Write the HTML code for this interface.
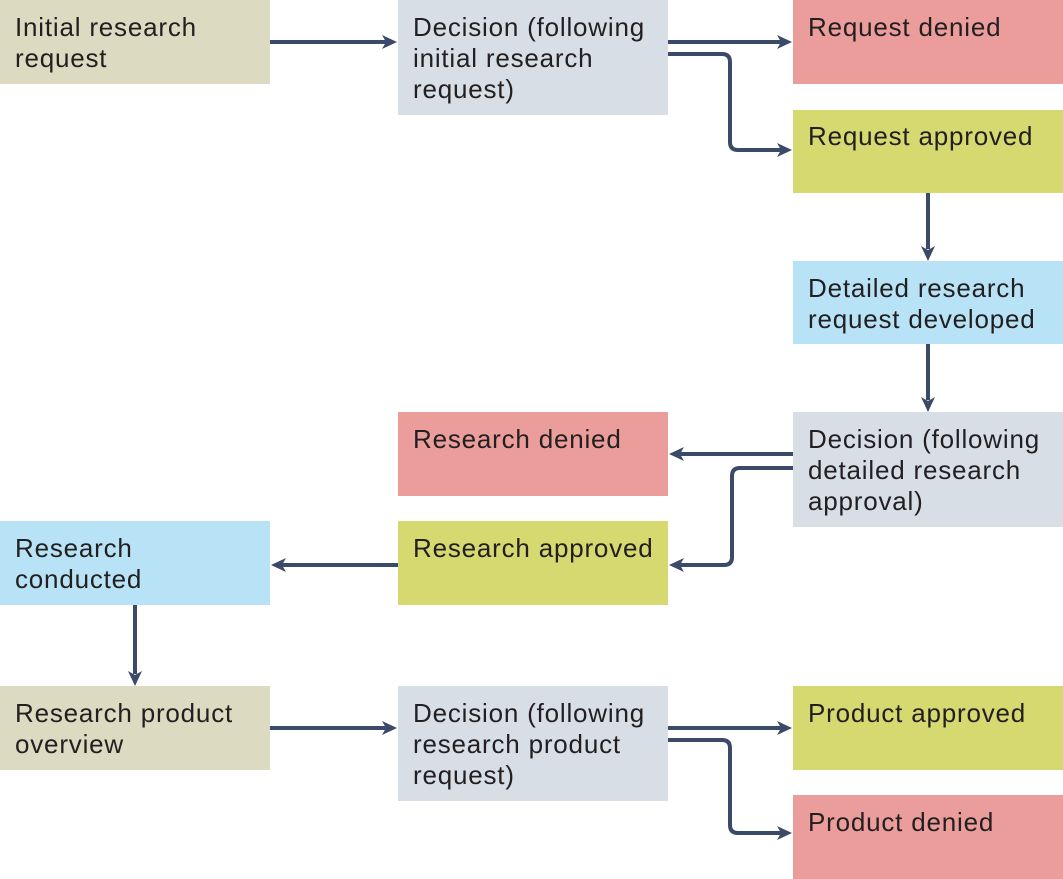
<!DOCTYPE html>
<html><head><meta charset="utf-8"><style>
html,body{margin:0;padding:0;background:#fff;}
svg{display:block}
text{font-family:"Liberation Sans",sans-serif;font-size:26px;letter-spacing:0.8px;fill:#231f20;}
</style></head><body>
<svg width="1063" height="879" viewBox="0 0 1063 879" xmlns="http://www.w3.org/2000/svg">
<!-- boxes -->
<rect x="0" y="0" width="270" height="84" fill="#dcdac1"/>
<rect x="398" y="0" width="270" height="115" fill="#d8dee6"/>
<rect x="793" y="0" width="270" height="84" fill="#eb9d9c"/>
<rect x="793" y="110" width="270" height="83" fill="#d6d870"/>
<rect x="793" y="261" width="270" height="83" fill="#b8e3f6"/>
<rect x="793" y="412" width="270" height="115" fill="#d8dee6"/>
<rect x="398" y="412" width="270" height="84" fill="#eb9d9c"/>
<rect x="398" y="521" width="270" height="84" fill="#d6d870"/>
<rect x="0" y="521" width="270" height="84" fill="#b8e3f6"/>
<rect x="0" y="686" width="270" height="84" fill="#dcdac1"/>
<rect x="398" y="686" width="270" height="115" fill="#d8dee6"/>
<rect x="793" y="686" width="270" height="84" fill="#d6d870"/>
<rect x="793" y="795" width="270" height="84" fill="#eb9d9c"/>
<!-- text -->
<text x="15" y="36">Initial research</text><text x="15" y="67">request</text>
<text x="413" y="36">Decision (following</text><text x="413" y="67">initial research</text><text x="413" y="98">request)</text>
<text x="808" y="36">Request denied</text>
<text x="808" y="145">Request approved</text>
<text x="808" y="297">Detailed research</text><text x="808" y="328">request developed</text>
<text x="808" y="448">Decision (following</text><text x="808" y="479">detailed research</text><text x="808" y="510">approval)</text>
<text x="413" y="448">Research denied</text>
<text x="413" y="557">Research approved</text>
<text x="15" y="557">Research</text><text x="15" y="588">conducted</text>
<text x="15" y="722">Research product</text><text x="15" y="753">overview</text>
<text x="413" y="722">Decision (following</text><text x="413" y="753">research product</text><text x="413" y="784">request)</text>
<text x="808" y="722">Product approved</text>
<text x="808" y="831">Product denied</text>
<!-- connectors -->
<g stroke="#3b4a68" stroke-width="4" fill="none">
<path d="M270,42 H386"/>
<path d="M668,42 H781"/>
<path d="M668,54 H722 Q730,54 730,62 V142 Q730,150 738,150 H781"/>
<path d="M928,193 V249"/>
<path d="M928,344 V400"/>
<path d="M793,454 H680"/>
<path d="M793,468 H740 Q732,468 732,476 V557 Q732,565 724,565 H680"/>
<path d="M398,565 H282"/>
<path d="M135,605 V674"/>
<path d="M270,728 H386"/>
<path d="M668,728 H781"/>
<path d="M668,740 H722 Q730,740 730,748 V825 Q730,833 738,833 H781"/>
</g>
<g fill="#3b4a68">
<!-- right heads -->
<path d="M397,42 l-15,-7 l4,7 l-4,7 z"/>
<path d="M792,42 l-15,-7 l4,7 l-4,7 z"/>
<path d="M792,150 l-15,-7 l4,7 l-4,7 z"/>
<path d="M397,728 l-15,-7 l4,7 l-4,7 z"/>
<path d="M792,728 l-15,-7 l4,7 l-4,7 z"/>
<path d="M792,833 l-15,-7 l4,7 l-4,7 z"/>
<!-- left heads -->
<path d="M669,454 l15,-7 l-4,7 l4,7 z"/>
<path d="M669,565 l15,-7 l-4,7 l4,7 z"/>
<path d="M271,565 l15,-7 l-4,7 l4,7 z"/>
<!-- down heads -->
<path d="M928,261 l-7,-15 l7,4 l7,-4 z"/>
<path d="M928,412 l-7,-15 l7,4 l7,-4 z"/>
<path d="M135,686 l-7,-15 l7,4 l7,-4 z"/>
</g>
</svg>
</body></html>
